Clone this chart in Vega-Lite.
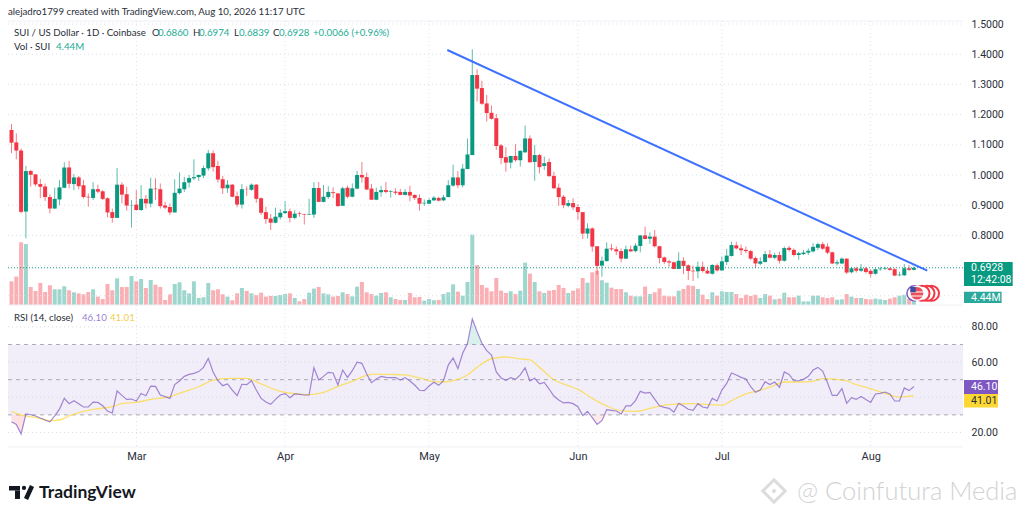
{"$schema":"https://vega.github.io/schema/vega-lite/v6.json","width":1024,"height":517,"padding":0,"autosize":{"type":"fit","contains":"padding"},"background":"#ffffff","config":{"view":{"stroke":null},"font":"Lato","axis":{"labelFont":"Roboto","labelFontSize":10.5,"labelColor":"#2A2E39","grid":false,"domain":false,"ticks":false,"title":null}},"datasets":{"candles":[
{"d":"2026-02-03","dir":"d","o":1.149,"h":1.169,"l":1.072,"c":1.107,"v":17.5,"r":26.1},
{"d":"2026-02-04","dir":"d","o":1.108,"h":1.138,"l":1.052,"c":1.081,"v":21.0,"r":24.6},
{"d":"2026-02-05","dir":"d","o":1.081,"h":1.088,"l":0.873,"c":0.878,"v":46.4,"r":19.1},
{"d":"2026-02-06","dir":"u","o":0.879,"h":1.03,"l":0.79,"c":1.013,"v":45.1,"r":30.5},
{"d":"2026-02-07","dir":"d","o":1.013,"h":1.017,"l":0.961,"c":1.001,"v":13.3,"r":30.1},
{"d":"2026-02-08","dir":"d","o":1.002,"h":1.003,"l":0.963,"c":0.969,"v":10.4,"r":29.4},
{"d":"2026-02-09","dir":"d","o":0.97,"h":0.987,"l":0.923,"c":0.961,"v":16.3,"r":28.2},
{"d":"2026-02-10","dir":"d","o":0.962,"h":0.972,"l":0.914,"c":0.927,"v":9.6,"r":27.1},
{"d":"2026-02-11","dir":"d","o":0.927,"h":0.936,"l":0.873,"c":0.889,"v":14.6,"r":26.1},
{"d":"2026-02-12","dir":"u","o":0.889,"h":0.958,"l":0.887,"c":0.921,"v":11.6,"r":29.4},
{"d":"2026-02-13","dir":"u","o":0.919,"h":0.983,"l":0.9,"c":0.959,"v":11.6,"r":33.3},
{"d":"2026-02-14","dir":"u","o":0.958,"h":1.042,"l":0.956,"c":1.025,"v":13.8,"r":39.4},
{"d":"2026-02-15","dir":"d","o":1.025,"h":1.047,"l":0.956,"c":0.971,"v":10.9,"r":36.4},
{"d":"2026-02-16","dir":"u","o":0.97,"h":1.003,"l":0.95,"c":0.992,"v":9.4,"r":38.1},
{"d":"2026-02-17","dir":"d","o":0.992,"h":0.997,"l":0.953,"c":0.963,"v":8.6,"r":36.4},
{"d":"2026-02-18","dir":"d","o":0.966,"h":0.983,"l":0.923,"c":0.927,"v":7.9,"r":34.5},
{"d":"2026-02-19","dir":"d","o":0.928,"h":0.939,"l":0.895,"c":0.926,"v":9.6,"r":34.5},
{"d":"2026-02-20","dir":"u","o":0.924,"h":0.976,"l":0.917,"c":0.953,"v":11.6,"r":37.3},
{"d":"2026-02-21","dir":"d","o":0.953,"h":0.968,"l":0.939,"c":0.945,"v":6.2,"r":37.1},
{"d":"2026-02-22","dir":"d","o":0.946,"h":0.95,"l":0.917,"c":0.921,"v":4.4,"r":35.2},
{"d":"2026-02-23","dir":"d","o":0.923,"h":0.926,"l":0.86,"c":0.876,"v":15.5,"r":32.2},
{"d":"2026-02-24","dir":"d","o":0.877,"h":0.889,"l":0.842,"c":0.858,"v":10.9,"r":31.1},
{"d":"2026-02-25","dir":"u","o":0.858,"h":1.023,"l":0.858,"c":0.968,"v":19.7,"r":43.6},
{"d":"2026-02-26","dir":"d","o":0.968,"h":0.976,"l":0.906,"c":0.935,"v":13.3,"r":41.1},
{"d":"2026-02-27","dir":"d","o":0.936,"h":0.961,"l":0.882,"c":0.899,"v":13.3,"r":38.8},
{"d":"2026-02-28","dir":"u","o":0.899,"h":0.917,"l":0.826,"c":0.9,"v":21.5,"r":39.0},
{"d":"2026-03-01","dir":"d","o":0.902,"h":0.95,"l":0.882,"c":0.884,"v":17.5,"r":37.9},
{"d":"2026-03-02","dir":"u","o":0.884,"h":0.966,"l":0.881,"c":0.921,"v":19.2,"r":42.2},
{"d":"2026-03-03","dir":"d","o":0.921,"h":0.934,"l":0.889,"c":0.906,"v":12.6,"r":40.9},
{"d":"2026-03-04","dir":"u","o":0.905,"h":0.991,"l":0.893,"c":0.955,"v":18.5,"r":46.4},
{"d":"2026-03-05","dir":"d","o":0.955,"h":0.989,"l":0.917,"c":0.953,"v":15.0,"r":46.2},
{"d":"2026-03-06","dir":"d","o":0.953,"h":0.972,"l":0.889,"c":0.897,"v":13.3,"r":41.3},
{"d":"2026-03-07","dir":"d","o":0.899,"h":0.911,"l":0.887,"c":0.892,"v":3.7,"r":40.4},
{"d":"2026-03-08","dir":"d","o":0.894,"h":0.906,"l":0.868,"c":0.876,"v":7.9,"r":39.4},
{"d":"2026-03-09","dir":"u","o":0.876,"h":0.986,"l":0.876,"c":0.941,"v":15.5,"r":47.2},
{"d":"2026-03-10","dir":"u","o":0.94,"h":1.009,"l":0.936,"c":0.955,"v":16.8,"r":49.3},
{"d":"2026-03-11","dir":"u","o":0.953,"h":0.994,"l":0.944,"c":0.976,"v":10.9,"r":51.9},
{"d":"2026-03-12","dir":"u","o":0.975,"h":1.0,"l":0.958,"c":0.99,"v":8.6,"r":53.0},
{"d":"2026-03-13","dir":"u","o":0.989,"h":1.052,"l":0.983,"c":0.993,"v":17.5,"r":53.6},
{"d":"2026-03-14","dir":"u","o":0.993,"h":1.002,"l":0.98,"c":1.0,"v":5.2,"r":54.6},
{"d":"2026-03-15","dir":"u","o":0.998,"h":1.031,"l":0.99,"c":1.023,"v":5.7,"r":57.0},
{"d":"2026-03-16","dir":"u","o":1.022,"h":1.083,"l":1.014,"c":1.072,"v":16.3,"r":62.1},
{"d":"2026-03-17","dir":"d","o":1.072,"h":1.081,"l":1.011,"c":1.026,"v":10.9,"r":54.4},
{"d":"2026-03-18","dir":"d","o":1.03,"h":1.047,"l":0.975,"c":0.985,"v":11.6,"r":49.4},
{"d":"2026-03-19","dir":"d","o":0.986,"h":0.997,"l":0.937,"c":0.956,"v":7.9,"r":46.6},
{"d":"2026-03-20","dir":"u","o":0.956,"h":0.983,"l":0.941,"c":0.968,"v":6.2,"r":47.6},
{"d":"2026-03-21","dir":"d","o":0.968,"h":0.97,"l":0.926,"c":0.928,"v":3.5,"r":44.1},
{"d":"2026-03-22","dir":"d","o":0.93,"h":0.945,"l":0.893,"c":0.902,"v":8.6,"r":40.9},
{"d":"2026-03-23","dir":"u","o":0.902,"h":0.97,"l":0.889,"c":0.953,"v":12.6,"r":47.4},
{"d":"2026-03-24","dir":"d","o":0.954,"h":0.963,"l":0.93,"c":0.953,"v":10.4,"r":47.2},
{"d":"2026-03-25","dir":"u","o":0.951,"h":0.972,"l":0.948,"c":0.968,"v":8.6,"r":49.4},
{"d":"2026-03-26","dir":"d","o":0.968,"h":0.97,"l":0.908,"c":0.921,"v":7.4,"r":44.1},
{"d":"2026-03-27","dir":"d","o":0.923,"h":0.926,"l":0.868,"c":0.875,"v":9.1,"r":39.4},
{"d":"2026-03-28","dir":"d","o":0.877,"h":0.895,"l":0.838,"c":0.854,"v":6.2,"r":37.3},
{"d":"2026-03-29","dir":"d","o":0.856,"h":0.871,"l":0.818,"c":0.842,"v":6.7,"r":36.0},
{"d":"2026-03-30","dir":"u","o":0.842,"h":0.892,"l":0.84,"c":0.862,"v":6.7,"r":38.8},
{"d":"2026-03-31","dir":"u","o":0.86,"h":0.887,"l":0.853,"c":0.875,"v":7.4,"r":41.3},
{"d":"2026-04-01","dir":"u","o":0.874,"h":0.913,"l":0.871,"c":0.88,"v":8.1,"r":42.1},
{"d":"2026-04-02","dir":"d","o":0.88,"h":0.889,"l":0.843,"c":0.858,"v":8.6,"r":39.8},
{"d":"2026-04-03","dir":"u","o":0.858,"h":0.883,"l":0.853,"c":0.872,"v":5.2,"r":41.9},
{"d":"2026-04-04","dir":"d","o":0.873,"h":0.879,"l":0.862,"c":0.871,"v":2.7,"r":41.7},
{"d":"2026-04-05","dir":"d","o":0.871,"h":0.871,"l":0.836,"c":0.869,"v":4.4,"r":41.3},
{"d":"2026-04-06","dir":"u","o":0.869,"h":0.921,"l":0.868,"c":0.871,"v":9.1,"r":41.3},
{"d":"2026-04-07","dir":"u","o":0.869,"h":0.976,"l":0.858,"c":0.957,"v":12.1,"r":56.8},
{"d":"2026-04-08","dir":"d","o":0.957,"h":0.977,"l":0.911,"c":0.911,"v":13.3,"r":49.8},
{"d":"2026-04-09","dir":"u","o":0.911,"h":0.967,"l":0.909,"c":0.928,"v":8.6,"r":51.9},
{"d":"2026-04-10","dir":"u","o":0.927,"h":0.963,"l":0.921,"c":0.944,"v":7.9,"r":54.2},
{"d":"2026-04-11","dir":"d","o":0.943,"h":0.959,"l":0.923,"c":0.94,"v":6.2,"r":53.8},
{"d":"2026-04-12","dir":"d","o":0.939,"h":0.941,"l":0.895,"c":0.897,"v":6.7,"r":47.0},
{"d":"2026-04-13","dir":"u","o":0.898,"h":0.961,"l":0.898,"c":0.956,"v":9.4,"r":55.5},
{"d":"2026-04-14","dir":"d","o":0.958,"h":0.965,"l":0.923,"c":0.928,"v":8.1,"r":51.3},
{"d":"2026-04-15","dir":"u","o":0.928,"h":0.972,"l":0.926,"c":0.956,"v":6.4,"r":55.1},
{"d":"2026-04-16","dir":"u","o":0.955,"h":1.014,"l":0.952,"c":1.0,"v":13.6,"r":59.9},
{"d":"2026-04-17","dir":"d","o":1.0,"h":1.043,"l":0.975,"c":0.992,"v":17.0,"r":59.3},
{"d":"2026-04-18","dir":"d","o":0.993,"h":1.008,"l":0.95,"c":0.952,"v":9.4,"r":53.2},
{"d":"2026-04-19","dir":"d","o":0.955,"h":0.97,"l":0.917,"c":0.918,"v":8.1,"r":48.3},
{"d":"2026-04-20","dir":"u","o":0.918,"h":0.958,"l":0.917,"c":0.944,"v":6.9,"r":50.4},
{"d":"2026-04-21","dir":"u","o":0.943,"h":0.964,"l":0.928,"c":0.95,"v":8.9,"r":51.9},
{"d":"2026-04-22","dir":"d","o":0.95,"h":0.977,"l":0.939,"c":0.944,"v":9.4,"r":51.3},
{"d":"2026-04-23","dir":"u","o":0.944,"h":0.95,"l":0.925,"c":0.946,"v":5.7,"r":51.2},
{"d":"2026-04-24","dir":"d","o":0.945,"h":0.956,"l":0.934,"c":0.941,"v":4.4,"r":51.2},
{"d":"2026-04-25","dir":"d","o":0.944,"h":0.954,"l":0.933,"c":0.934,"v":3.7,"r":49.8},
{"d":"2026-04-26","dir":"u","o":0.934,"h":0.953,"l":0.933,"c":0.944,"v":3.7,"r":51.2},
{"d":"2026-04-27","dir":"d","o":0.944,"h":0.964,"l":0.913,"c":0.932,"v":8.9,"r":49.3},
{"d":"2026-04-28","dir":"d","o":0.934,"h":0.936,"l":0.917,"c":0.924,"v":5.7,"r":47.0},
{"d":"2026-04-29","dir":"d","o":0.924,"h":0.936,"l":0.882,"c":0.905,"v":5.9,"r":44.0},
{"d":"2026-04-30","dir":"u","o":0.906,"h":0.919,"l":0.898,"c":0.908,"v":3.2,"r":43.8},
{"d":"2026-05-01","dir":"u","o":0.905,"h":0.923,"l":0.904,"c":0.917,"v":4.4,"r":46.4},
{"d":"2026-05-02","dir":"u","o":0.916,"h":0.93,"l":0.914,"c":0.925,"v":3.5,"r":48.5},
{"d":"2026-05-03","dir":"d","o":0.924,"h":0.928,"l":0.912,"c":0.915,"v":3.7,"r":46.8},
{"d":"2026-05-04","dir":"u","o":0.916,"h":0.934,"l":0.914,"c":0.926,"v":8.1,"r":49.4},
{"d":"2026-05-05","dir":"u","o":0.927,"h":0.983,"l":0.926,"c":0.966,"v":9.4,"r":58.3},
{"d":"2026-05-06","dir":"u","o":0.965,"h":1.034,"l":0.961,"c":0.992,"v":15.3,"r":62.3},
{"d":"2026-05-07","dir":"d","o":0.992,"h":1.013,"l":0.956,"c":0.966,"v":9.9,"r":56.3},
{"d":"2026-05-08","dir":"u","o":0.966,"h":1.036,"l":0.959,"c":1.021,"v":6.9,"r":65.0},
{"d":"2026-05-09","dir":"u","o":1.02,"h":1.121,"l":1.019,"c":1.068,"v":17.0,"r":70.7},
{"d":"2026-05-10","dir":"u","o":1.066,"h":1.416,"l":1.066,"c":1.331,"v":52.1,"r":84.5},
{"d":"2026-05-11","dir":"d","o":1.331,"h":1.35,"l":1.243,"c":1.286,"v":29.6,"r":77.3},
{"d":"2026-05-12","dir":"d","o":1.288,"h":1.312,"l":1.232,"c":1.236,"v":14.8,"r":70.7},
{"d":"2026-05-13","dir":"d","o":1.237,"h":1.265,"l":1.177,"c":1.205,"v":12.8,"r":66.5},
{"d":"2026-05-14","dir":"d","o":1.206,"h":1.23,"l":1.184,"c":1.186,"v":10.1,"r":64.0},
{"d":"2026-05-15","dir":"d","o":1.188,"h":1.202,"l":1.083,"c":1.096,"v":20.0,"r":54.4},
{"d":"2026-05-16","dir":"d","o":1.098,"h":1.103,"l":1.036,"c":1.056,"v":10.6,"r":51.0},
{"d":"2026-05-17","dir":"d","o":1.059,"h":1.092,"l":1.011,"c":1.041,"v":8.9,"r":49.6},
{"d":"2026-05-18","dir":"u","o":1.041,"h":1.064,"l":1.022,"c":1.063,"v":10.1,"r":51.2},
{"d":"2026-05-19","dir":"d","o":1.063,"h":1.102,"l":1.044,"c":1.049,"v":8.1,"r":50.2},
{"d":"2026-05-20","dir":"u","o":1.049,"h":1.081,"l":1.028,"c":1.08,"v":10.6,"r":52.7},
{"d":"2026-05-21","dir":"u","o":1.075,"h":1.164,"l":1.074,"c":1.121,"v":31.3,"r":56.8},
{"d":"2026-05-22","dir":"d","o":1.121,"h":1.131,"l":1.042,"c":1.042,"v":23.2,"r":49.3},
{"d":"2026-05-23","dir":"u","o":1.043,"h":1.099,"l":0.981,"c":1.066,"v":17.0,"r":50.8},
{"d":"2026-05-24","dir":"d","o":1.066,"h":1.07,"l":1.005,"c":1.026,"v":10.1,"r":47.6},
{"d":"2026-05-25","dir":"u","o":1.03,"h":1.061,"l":1.017,"c":1.039,"v":8.9,"r":48.5},
{"d":"2026-05-26","dir":"d","o":1.043,"h":1.055,"l":0.995,"c":0.996,"v":10.6,"r":44.7},
{"d":"2026-05-27","dir":"d","o":0.997,"h":1.011,"l":0.954,"c":0.956,"v":11.1,"r":40.7},
{"d":"2026-05-28","dir":"d","o":0.958,"h":0.972,"l":0.898,"c":0.927,"v":14.8,"r":38.5},
{"d":"2026-05-29","dir":"d","o":0.928,"h":0.934,"l":0.89,"c":0.9,"v":12.6,"r":36.8},
{"d":"2026-05-30","dir":"u","o":0.898,"h":0.917,"l":0.893,"c":0.907,"v":8.9,"r":37.1},
{"d":"2026-05-31","dir":"d","o":0.907,"h":0.923,"l":0.884,"c":0.893,"v":10.6,"r":36.4},
{"d":"2026-06-01","dir":"d","o":0.894,"h":0.904,"l":0.851,"c":0.877,"v":12.3,"r":34.7},
{"d":"2026-06-02","dir":"d","o":0.877,"h":0.878,"l":0.788,"c":0.806,"v":20.0,"r":29.6},
{"d":"2026-06-03","dir":"u","o":0.806,"h":0.84,"l":0.79,"c":0.823,"v":16.5,"r":32.0},
{"d":"2026-06-04","dir":"d","o":0.823,"h":0.827,"l":0.746,"c":0.763,"v":24.2,"r":28.4},
{"d":"2026-06-05","dir":"d","o":0.764,"h":0.765,"l":0.669,"c":0.699,"v":25.4,"r":24.6},
{"d":"2026-06-06","dir":"u","o":0.7,"h":0.73,"l":0.663,"c":0.716,"v":18.3,"r":26.7},
{"d":"2026-06-07","dir":"u","o":0.715,"h":0.777,"l":0.713,"c":0.756,"v":16.5,"r":33.0},
{"d":"2026-06-08","dir":"d","o":0.757,"h":0.772,"l":0.749,"c":0.754,"v":12.8,"r":32.6},
{"d":"2026-06-09","dir":"d","o":0.754,"h":0.763,"l":0.735,"c":0.747,"v":11.8,"r":32.2},
{"d":"2026-06-10","dir":"d","o":0.748,"h":0.757,"l":0.711,"c":0.723,"v":11.8,"r":30.5},
{"d":"2026-06-11","dir":"u","o":0.723,"h":0.766,"l":0.722,"c":0.754,"v":9.4,"r":35.1},
{"d":"2026-06-12","dir":"d","o":0.754,"h":0.766,"l":0.746,"c":0.747,"v":6.9,"r":35.1},
{"d":"2026-06-13","dir":"u","o":0.748,"h":0.774,"l":0.744,"c":0.766,"v":6.4,"r":38.1},
{"d":"2026-06-14","dir":"u","o":0.765,"h":0.801,"l":0.744,"c":0.8,"v":6.4,"r":43.4},
{"d":"2026-06-15","dir":"d","o":0.8,"h":0.829,"l":0.787,"c":0.788,"v":13.6,"r":42.4},
{"d":"2026-06-16","dir":"u","o":0.789,"h":0.81,"l":0.772,"c":0.796,"v":8.1,"r":42.8},
{"d":"2026-06-17","dir":"d","o":0.796,"h":0.818,"l":0.76,"c":0.764,"v":9.4,"r":39.0},
{"d":"2026-06-18","dir":"d","o":0.764,"h":0.766,"l":0.707,"c":0.725,"v":12.3,"r":35.2},
{"d":"2026-06-19","dir":"d","o":0.727,"h":0.73,"l":0.705,"c":0.712,"v":6.9,"r":34.3},
{"d":"2026-06-20","dir":"d","o":0.714,"h":0.719,"l":0.696,"c":0.71,"v":6.4,"r":33.7},
{"d":"2026-06-21","dir":"d","o":0.711,"h":0.713,"l":0.688,"c":0.689,"v":6.4,"r":31.6},
{"d":"2026-06-22","dir":"u","o":0.689,"h":0.744,"l":0.688,"c":0.716,"v":10.6,"r":36.6},
{"d":"2026-06-23","dir":"d","o":0.716,"h":0.727,"l":0.672,"c":0.699,"v":11.8,"r":35.1},
{"d":"2026-06-24","dir":"d","o":0.701,"h":0.704,"l":0.652,"c":0.682,"v":14.6,"r":33.2},
{"d":"2026-06-25","dir":"d","o":0.683,"h":0.699,"l":0.649,"c":0.681,"v":14.1,"r":32.6},
{"d":"2026-06-26","dir":"u","o":0.681,"h":0.713,"l":0.658,"c":0.696,"v":11.8,"r":36.4},
{"d":"2026-06-27","dir":"d","o":0.696,"h":0.713,"l":0.677,"c":0.682,"v":7.6,"r":34.5},
{"d":"2026-06-28","dir":"d","o":0.683,"h":0.696,"l":0.672,"c":0.674,"v":4.4,"r":33.9},
{"d":"2026-06-29","dir":"u","o":0.673,"h":0.705,"l":0.67,"c":0.702,"v":9.4,"r":39.4},
{"d":"2026-06-30","dir":"d","o":0.701,"h":0.707,"l":0.68,"c":0.684,"v":6.9,"r":37.9},
{"d":"2026-07-01","dir":"u","o":0.684,"h":0.73,"l":0.683,"c":0.714,"v":10.1,"r":44.1},
{"d":"2026-07-02","dir":"u","o":0.712,"h":0.755,"l":0.702,"c":0.733,"v":9.6,"r":47.9},
{"d":"2026-07-03","dir":"u","o":0.732,"h":0.779,"l":0.73,"c":0.768,"v":9.6,"r":53.8},
{"d":"2026-07-04","dir":"d","o":0.767,"h":0.779,"l":0.754,"c":0.757,"v":8.1,"r":52.7},
{"d":"2026-07-05","dir":"d","o":0.757,"h":0.77,"l":0.735,"c":0.751,"v":5.2,"r":51.3},
{"d":"2026-07-06","dir":"d","o":0.752,"h":0.763,"l":0.741,"c":0.748,"v":7.6,"r":50.4},
{"d":"2026-07-07","dir":"d","o":0.748,"h":0.752,"l":0.719,"c":0.723,"v":6.7,"r":46.0},
{"d":"2026-07-08","dir":"d","o":0.725,"h":0.73,"l":0.692,"c":0.707,"v":7.6,"r":42.8},
{"d":"2026-07-09","dir":"u","o":0.706,"h":0.727,"l":0.702,"c":0.714,"v":5.2,"r":44.1},
{"d":"2026-07-10","dir":"u","o":0.712,"h":0.749,"l":0.71,"c":0.738,"v":8.1,"r":48.9},
{"d":"2026-07-11","dir":"d","o":0.737,"h":0.752,"l":0.724,"c":0.726,"v":6.9,"r":47.2},
{"d":"2026-07-12","dir":"u","o":0.726,"h":0.743,"l":0.721,"c":0.735,"v":4.2,"r":48.7},
{"d":"2026-07-13","dir":"d","o":0.735,"h":0.746,"l":0.707,"c":0.716,"v":4.7,"r":45.7},
{"d":"2026-07-14","dir":"u","o":0.716,"h":0.763,"l":0.713,"c":0.758,"v":9.1,"r":54.4},
{"d":"2026-07-15","dir":"d","o":0.759,"h":0.765,"l":0.746,"c":0.752,"v":5.7,"r":53.0},
{"d":"2026-07-16","dir":"d","o":0.752,"h":0.757,"l":0.73,"c":0.735,"v":5.7,"r":49.4},
{"d":"2026-07-17","dir":"u","o":0.735,"h":0.746,"l":0.719,"c":0.741,"v":6.9,"r":49.4},
{"d":"2026-07-18","dir":"u","o":0.738,"h":0.752,"l":0.735,"c":0.743,"v":2.7,"r":50.2},
{"d":"2026-07-19","dir":"u","o":0.743,"h":0.757,"l":0.735,"c":0.749,"v":2.7,"r":51.9},
{"d":"2026-07-20","dir":"u","o":0.747,"h":0.774,"l":0.743,"c":0.762,"v":6.9,"r":55.5},
{"d":"2026-07-21","dir":"u","o":0.759,"h":0.776,"l":0.752,"c":0.771,"v":6.9,"r":57.0},
{"d":"2026-07-22","dir":"d","o":0.771,"h":0.778,"l":0.752,"c":0.756,"v":5.7,"r":54.9},
{"d":"2026-07-23","dir":"d","o":0.763,"h":0.774,"l":0.738,"c":0.743,"v":5.2,"r":48.3},
{"d":"2026-07-24","dir":"d","o":0.744,"h":0.746,"l":0.705,"c":0.707,"v":5.7,"r":41.1},
{"d":"2026-07-25","dir":"u","o":0.707,"h":0.719,"l":0.701,"c":0.711,"v":3.9,"r":41.1},
{"d":"2026-07-26","dir":"u","o":0.707,"h":0.727,"l":0.705,"c":0.723,"v":4.2,"r":44.9},
{"d":"2026-07-27","dir":"d","o":0.723,"h":0.724,"l":0.672,"c":0.677,"v":8.1,"r":36.6},
{"d":"2026-07-28","dir":"u","o":0.678,"h":0.696,"l":0.674,"c":0.691,"v":6.2,"r":39.8},
{"d":"2026-07-29","dir":"d","o":0.691,"h":0.696,"l":0.677,"c":0.683,"v":5.2,"r":38.8},
{"d":"2026-07-30","dir":"u","o":0.683,"h":0.705,"l":0.679,"c":0.69,"v":5.2,"r":40.5},
{"d":"2026-07-31","dir":"d","o":0.691,"h":0.696,"l":0.674,"c":0.679,"v":4.4,"r":38.8},
{"d":"2026-08-01","dir":"d","o":0.683,"h":0.688,"l":0.661,"c":0.672,"v":4.2,"r":37.1},
{"d":"2026-08-02","dir":"u","o":0.673,"h":0.691,"l":0.67,"c":0.688,"v":4.7,"r":41.9},
{"d":"2026-08-03","dir":"u","o":0.688,"h":0.696,"l":0.683,"c":0.69,"v":4.2,"r":42.2},
{"d":"2026-08-04","dir":"u","o":0.689,"h":0.696,"l":0.685,"c":0.691,"v":3.7,"r":43.0},
{"d":"2026-08-05","dir":"d","o":0.691,"h":0.693,"l":0.683,"c":0.686,"v":4.7,"r":41.9},
{"d":"2026-08-06","dir":"d","o":0.688,"h":0.693,"l":0.665,"c":0.667,"v":5.7,"r":37.9},
{"d":"2026-08-07","dir":"u","o":0.668,"h":0.68,"l":0.665,"c":0.67,"v":6.9,"r":37.9},
{"d":"2026-08-08","dir":"u","o":0.668,"h":0.705,"l":0.665,"c":0.691,"v":7.6,"r":45.3},
{"d":"2026-08-09","dir":"d","o":0.691,"h":0.702,"l":0.682,"c":0.686,"v":4.4,"r":43.8},
{"d":"2026-08-10","dir":"u","o":0.686,"h":0.6974,"l":0.6839,"c":0.6928,"v":4.44,"r":46.1}
],"rsiMa":[
{"d":"2026-02-03","m":32.0},{"d":"2026-02-05","m":29.9},{"d":"2026-02-08","m":28.6},{"d":"2026-02-11","m":26.7},{"d":"2026-02-13","m":27.1},{"d":"2026-02-15","m":29.4},{"d":"2026-02-18","m":32.0},{"d":"2026-02-21","m":33.5},{"d":"2026-02-24","m":34.7},{"d":"2026-02-26","m":36.4},{"d":"2026-03-01","m":37.1},{"d":"2026-03-04","m":38.8},{"d":"2026-03-08","m":40.4},{"d":"2026-03-11","m":43.2},{"d":"2026-03-14","m":46.0},{"d":"2026-03-17","m":49.8},{"d":"2026-03-20","m":50.8},{"d":"2026-03-24","m":50.8},{"d":"2026-03-27","m":47.6},{"d":"2026-03-31","m":43.4},{"d":"2026-04-03","m":42.1},{"d":"2026-04-06","m":41.5},{"d":"2026-04-09","m":42.8},{"d":"2026-04-12","m":46.2},{"d":"2026-04-15","m":49.1},{"d":"2026-04-18","m":52.5},{"d":"2026-04-20","m":53.2},{"d":"2026-04-23","m":53.0},{"d":"2026-04-26","m":52.7},{"d":"2026-04-29","m":51.0},{"d":"2026-05-02","m":48.9},{"d":"2026-05-04","m":48.7},{"d":"2026-05-07","m":50.2},{"d":"2026-05-09","m":52.7},{"d":"2026-05-11","m":57.0},{"d":"2026-05-14","m":61.9},{"d":"2026-05-17","m":62.9},{"d":"2026-05-20","m":61.8},{"d":"2026-05-22","m":61.2},{"d":"2026-05-24","m":57.0},{"d":"2026-05-27","m":50.0},{"d":"2026-05-30","m":46.6},{"d":"2026-06-01","m":44.5},{"d":"2026-06-04","m":39.4},{"d":"2026-06-07","m":35.1},{"d":"2026-06-10","m":32.4},{"d":"2026-06-13","m":32.0},{"d":"2026-06-16","m":33.7},{"d":"2026-06-19","m":35.6},{"d":"2026-06-22","m":36.2},{"d":"2026-06-25","m":36.4},{"d":"2026-06-28","m":35.8},{"d":"2026-07-01","m":35.6},{"d":"2026-07-03","m":38.1},{"d":"2026-07-06","m":41.9},{"d":"2026-07-09","m":44.1},{"d":"2026-07-12","m":46.8},{"d":"2026-07-14","m":48.7},{"d":"2026-07-17","m":48.7},{"d":"2026-07-20","m":49.1},{"d":"2026-07-22","m":50.6},{"d":"2026-07-25","m":50.2},{"d":"2026-07-27","m":49.3},{"d":"2026-07-29","m":47.2},{"d":"2026-08-01","m":44.9},{"d":"2026-08-04","m":42.2},{"d":"2026-08-07","m":40.2},{"d":"2026-08-10","m":41.01}
],"rsiExtreme":[
{"d":"2026-02-03","r":26.1,"lim":30,"zone":"low"},{"d":"2026-02-04","r":24.6,"lim":30,"zone":"low"},{"d":"2026-02-05","r":19.1,"lim":30,"zone":"low"},{"d":"2026-02-06","r":30.0,"lim":30,"zone":"low"},
{"d":"2026-06-04","r":28.4,"lim":30,"zone":"low2"},{"d":"2026-06-05","r":24.6,"lim":30,"zone":"low2"},{"d":"2026-06-06","r":26.7,"lim":30,"zone":"low2"},{"d":"2026-06-07","r":30.0,"lim":30,"zone":"low2"},
{"d":"2026-05-09","r":70.0,"lim":70,"zone":"high"},{"d":"2026-05-10","r":84.5,"lim":70,"zone":"high"},{"d":"2026-05-11","r":77.3,"lim":70,"zone":"high"},{"d":"2026-05-12","r":70.0,"lim":70,"zone":"high"}
],
"priceGrid":[{"d":1770013740000,"e":1787203740000,"lv":1.5},{"d":1770013740000,"e":1787203740000,"lv":1.4},{"d":1770013740000,"e":1787203740000,"lv":1.3},{"d":1770013740000,"e":1787203740000,"lv":1.2},{"d":1770013740000,"e":1787203740000,"lv":1.1},{"d":1770013740000,"e":1787203740000,"lv":1.0},{"d":1770013740000,"e":1787203740000,"lv":0.9},{"d":1770013740000,"e":1787203740000,"lv":0.8},{"d":1770013740000,"e":1787203740000,"lv":0.7},{"d":1770013740000,"e":1787203740000,"lv":0.6}],
"rsiGrid":[{"d":1770013740000,"e":1787203740000,"lv":80},{"d":1770013740000,"e":1787203740000,"lv":60},{"d":1770013740000,"e":1787203740000,"lv":40},{"d":1770013740000,"e":1787203740000,"lv":20}],
"rsiBands":[{"d":1770013740000,"e":1787203740000,"lv":70},{"d":1770013740000,"e":1787203740000,"lv":50},{"d":1770013740000,"e":1787203740000,"lv":30}],
"months":[{"d":1772323200000,"top":1.5099,"bottom":0.0993},{"d":1775001600000,"top":1.5099,"bottom":0.0993},{"d":1777593600000,"top":1.5099,"bottom":0.0993},{"d":1780272000000,"top":1.5099,"bottom":0.0993},{"d":1782864000000,"top":1.5099,"bottom":0.0993},{"d":1785542400000,"top":1.5099,"bottom":0.0993}],
"trend":[{"d":"2026-05-04T19:00:00Z","p":1.4139},{"d":"2026-08-12T19:00:00Z","p":0.6831}],
"notes":[
{"d":1770013740000,"p":1.5397,"t":"alejadro1799 created with TradingView.com, Aug 10, 2026 11:17 UTC","tone":"ink"},
{"d":1770121740000,"p":1.4702,"t":"SUI / US Dollar · 1D · Coinbase","tone":"ink"},
{"d":1772605740000,"p":1.4702,"t":"O","tone":"ink"},{"d":1772713740000,"p":1.4702,"t":"0.6860","tone":"teal"},
{"d":1773343740000,"p":1.4702,"t":"H","tone":"ink"},{"d":1773451740000,"p":1.4702,"t":"0.6974","tone":"teal"},
{"d":1774081740000,"p":1.4702,"t":"L","tone":"ink"},{"d":1774171740000,"p":1.4702,"t":"0.6839","tone":"teal"},
{"d":1774783740000,"p":1.4702,"t":"C","tone":"ink"},{"d":1774891740000,"p":1.4702,"t":"0.6928","tone":"teal"},
{"d":1775503740000,"p":1.4702,"t":"+0.0066 (+0.96%)","tone":"teal"},
{"d":1770121740000,"p":1.4238,"t":"Vol · SUI","tone":"ink"},{"d":1770877740000,"p":1.4238,"t":"4.44M","tone":"teal"},
{"d":1770121740000,"p":0.5265,"t":"RSI (14, close)","tone":"ink"},{"d":1771345740000,"p":0.5265,"t":"46.10","tone":"purple"},{"d":1771849740000,"p":0.5265,"t":"41.01","tone":"gold"}
],
"tagText":[
{"d":1787347740000,"p":0.6921,"t":"0.6928","tone":"white"},{"d":1787347740000,"p":0.6523,"t":"12:42:08","tone":"white"},{"d":1787347740000,"p":0.5927,"t":"4.44M","tone":"white"},
{"d":1787347740000,"p":0.298,"t":"46.10","tone":"white"},{"d":1787347740000,"p":0.2517,"t":"41.01","tone":"ink"}
],
"tags":[{"d":1787221740000,"e":1788098340000,"p":0.7119,"p2":0.6325,"tone":"price"},{"d":1787221740000,"e":1787898540000,"p":0.6136,"p2":0.5762,"tone":"vol"},{"d":1787221740000,"e":1787833740000,"p":0.3212,"p2":0.2748,"tone":"rsi"},{"d":1787221740000,"e":1787833740000,"p":0.2748,"p2":0.2301,"tone":"ma"}],
"events":[{"d":1786636740000,"p":0.6083,"kind":"a"},{"d":1786555740000,"p":0.6083,"kind":"b"},{"d":1786465740000,"p":0.6083,"kind":"c"}],
"eventFront":[{"d":1786330740000,"p":0.6083}],
"flag":[{"d":1786375740000,"p":0.6083}],
"flagStripes":[{"d":1786267740000,"e":1786483740000,"p":0.6126},{"d":1786267740000,"e":1786483740000,"p":0.5993}],
"flagCanton":[{"d":1786303740000,"p":0.6209}],
"brand":[{"d":1770571740000,"p":-0.053,"t":"TradingView"}],
"logoBars":[{"d":1770031740000,"e":1770229740000,"p":-0.0298,"p2":-0.0447},{"d":1770139740000,"e":1770229740000,"p":-0.0447,"p2":-0.0728}],
"logoDot":[{"d":1770301740000,"p":-0.0364}],
"logoSlash":[{"d":1770445740000,"p":-0.0298},{"d":1770337740000,"p":-0.0728}],
"water":[{"d":1784215740000,"p":-0.05,"t":"@ Coinfutura Media"}],
"waterMark":[{"d":1783801740000,"p":-0.0464}],
"pane":[{"d":1770013740000,"e":1787203740000,"lv":1.5099},{"d":1770013740000,"e":1787203740000,"lv":0.5695},{"d":1770013740000,"e":1787203740000,"lv":0.0993}]
},
"encoding":{"x":{"field":"d","type":"temporal","title":null,"scale":{"type":"utc","domain":[1769869740000,1788302040000],"padding":0},"axis":{"orient":"bottom","offset":-70,"values":[1772323200000,1775001600000,1777593600000,1780272000000,1782864000000,1785542400000],"labelExpr":"utcFormat(datum.value,'%b')","labelPadding":3,"labelFontSize":11,"labelOverlap":false}}},
"layer":[
{"encoding":{"y":{"field":"v","type":"quantitative","title":null,"axis":null,"stack":null,"scale":{"domain":[-156.9,225.7],"zero":false,"nice":false}}},
"layer":[{"data":{"name":"candles"},"mark":{"type":"bar","size":4,"opacity":0.4},"encoding":{"y2":{"datum":0},"color":{"field":"dir","type":"nominal","legend":null,"scale":{"domain":["u","d","ink","teal","white","purple","gold","price","vol","rsi","ma"],"range":["#089981","#F23645","#2A2E39","#22AB94","#ffffff","#9C7FD6","#F2CE4E","#089981","#2BA89C","#7E57C2","#FDD835"]}}}}]},
{"encoding":{"y":{"field":"p","type":"quantitative","title":null,"scale":{"domain":[-0.1325,1.5795],"zero":false,"nice":false},"axis":{"orient":"right","offset":-61,"values":[0.8,0.9,1.0,1.1,1.2,1.3,1.4,1.5],"format":".4f","labelPadding":8}}},
"layer":[
{"data":{"name":"priceGrid"},"mark":{"type":"rule","color":"#DDE0E8","strokeDash":[1,3],"strokeWidth":1},"encoding":{"x2":{"field":"e"},"y":{"field":"lv","type":"quantitative"}}},
{"data":{"name":"pane"},"mark":{"type":"rule","color":"#EEF0F5","strokeWidth":1},"encoding":{"x2":{"field":"e"},"y":{"field":"lv","type":"quantitative"}}},
{"data":{"name":"months"},"mark":{"type":"rule","color":"#DDE0E8","strokeDash":[1,3],"strokeWidth":1},"encoding":{"y":{"field":"top","type":"quantitative"},"y2":{"field":"bottom"}}},
{"data":{"name":"candles"},"mark":{"type":"rule","strokeWidth":1,"opacity":0.65},"encoding":{"y":{"field":"h","type":"quantitative"},"y2":{"field":"l"},"color":{"field":"dir","type":"nominal","legend":null}}},
{"data":{"name":"candles"},"mark":{"type":"bar","size":4},"encoding":{"y":{"field":"o","type":"quantitative"},"y2":{"field":"c"},"color":{"field":"dir","type":"nominal","legend":null}}},
{"data":{"values":[{"d":1770013740000,"e":1787203740000,"p":0.6928}]},"mark":{"type":"rule","color":"#089981","strokeDash":[1,2],"strokeWidth":1},"encoding":{"x2":{"field":"e"}}},
{"data":{"name":"trend"},"mark":{"type":"line","color":"#2962FF","strokeWidth":2,"opacity":0.9}},
{"data":{"name":"tags"},"mark":{"type":"rect"},"encoding":{"x2":{"field":"e"},"y2":{"field":"p2"},"color":{"field":"tone","type":"nominal","legend":null}}},
{"data":{"name":"events"},"mark":{"type":"point","filled":true,"fill":"#ffffff","stroke":"#F23645","strokeWidth":2,"size":227,"opacity":1}},
{"data":{"name":"eventFront"},"mark":{"type":"point","filled":true,"fill":"#ffffff","stroke":"#7E57C2","strokeWidth":1.5,"size":227,"opacity":1}},
{"data":{"name":"flag"},"mark":{"type":"point","filled":true,"fill":"#E8505B","stroke":"#ffffff","strokeWidth":1.5,"size":200,"opacity":1}},
{"data":{"name":"flagStripes"},"mark":{"type":"rule","color":"#ffffff","strokeWidth":1},"encoding":{"x2":{"field":"e"}}},
{"data":{"name":"flagCanton"},"mark":{"type":"point","filled":true,"shape":"square","fill":"#3A4DA0","size":30,"opacity":1}},
{"data":{"name":"notes"},"mark":{"type":"text","align":"left","baseline":"middle","fontSize":9.7,"font":"Lato"},"encoding":{"text":{"field":"t"},"color":{"field":"tone","type":"nominal","legend":null}}},
{"data":{"name":"tagText"},"mark":{"type":"text","align":"left","baseline":"middle","fontSize":10.5,"font":"Roboto"},"encoding":{"text":{"field":"t"},"color":{"field":"tone","type":"nominal","legend":null}}},
{"data":{"name":"brand"},"mark":{"type":"text","align":"left","baseline":"middle","fontSize":17.5,"fontWeight":"bold","font":"Lato","color":"#131722"},"encoding":{"text":{"field":"t"}}},
{"data":{"name":"logoBars"},"mark":{"type":"rect","color":"#131722"},"encoding":{"x2":{"field":"e"},"y2":{"field":"p2"}}},
{"data":{"name":"logoDot"},"mark":{"type":"point","filled":true,"color":"#131722","size":18,"opacity":1}},
{"data":{"name":"logoSlash"},"mark":{"type":"line","color":"#131722","strokeWidth":4.5}},
{"data":{"name":"waterMark"},"mark":{"type":"point","shape":"diamond","filled":false,"color":"#DCDCDC","strokeWidth":3,"size":500,"opacity":1}},
{"data":{"name":"waterMark"},"mark":{"type":"point","shape":"diamond","filled":true,"color":"#DCDCDC","size":25,"opacity":1}},
{"data":{"name":"water"},"mark":{"type":"text","align":"left","baseline":"middle","fontSize":25.5,"fontWeight":300,"font":"Lato","color":"#D2D2D2"},"encoding":{"text":{"field":"t"}}}
]},
{"encoding":{"y":{"field":"r","type":"quantitative","title":null,"scale":{"domain":[-28.0,265.7],"zero":false,"nice":false},"axis":{"orient":"right","offset":-61,"values":[20,60,80],"format":".2f","labelPadding":8}}},
"layer":[
{"data":{"values":[{"d":1770013740000,"e":1787203740000,"r":70,"r2":30}]},"mark":{"type":"rect","color":"#7E57C2","opacity":0.1},"encoding":{"x2":{"field":"e"},"y2":{"field":"r2"}}},
{"data":{"name":"rsiGrid"},"mark":{"type":"rule","color":"#D9DCE5","strokeDash":[1,3]},"encoding":{"x2":{"field":"e"},"y":{"field":"lv","type":"quantitative"}}},
{"data":{"name":"rsiBands"},"mark":{"type":"rule","color":"#787B86","strokeDash":[4,4],"opacity":0.6},"encoding":{"x2":{"field":"e"},"y":{"field":"lv","type":"quantitative"}}},
{"data":{"name":"rsiExtreme"},"transform":[{"filter":"datum.zone=='low'"}],"mark":{"type":"area","color":"#F23645","opacity":0.15},"encoding":{"y2":{"field":"lim"}}},
{"data":{"name":"rsiExtreme"},"transform":[{"filter":"datum.zone=='low2'"}],"mark":{"type":"area","color":"#F23645","opacity":0.1},"encoding":{"y2":{"field":"lim"}}},
{"data":{"name":"rsiExtreme"},"transform":[{"filter":"datum.zone=='high'"}],"mark":{"type":"area","color":"#089981","opacity":0.15},"encoding":{"y2":{"field":"lim"}}},
{"data":{"name":"rsiMa"},"mark":{"type":"line","color":"#FDD835","strokeWidth":1.3,"interpolate":"monotone","opacity":0.7},"encoding":{"y":{"field":"m","type":"quantitative"}}},
{"data":{"name":"candles"},"mark":{"type":"line","color":"#7E57C2","strokeWidth":1.2,"opacity":0.7}}
]}
],
"resolve":{"scale":{"y":"independent"},"axis":{"y":"independent"}}}
